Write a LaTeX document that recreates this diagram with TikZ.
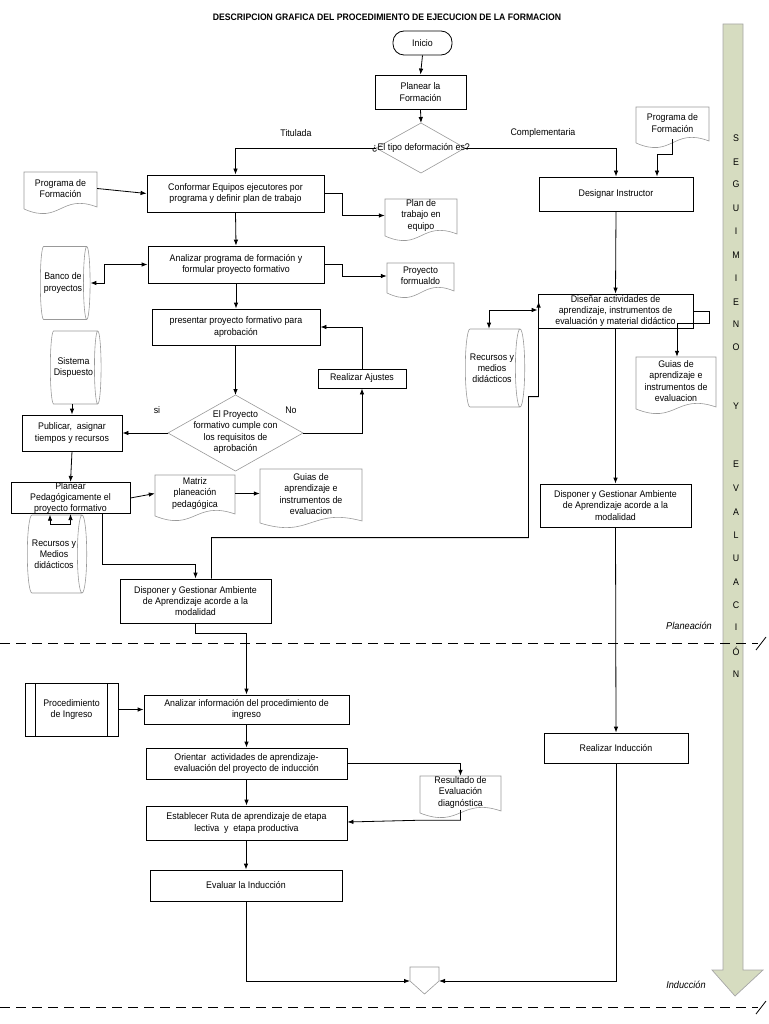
\documentclass[tikz,border=0pt]{standalone}
\usepackage{fontspec}
\setmainfont{Liberation Sans}[FakeStretch=0.92]
\usetikzlibrary{arrows.meta,shapes.geometric,calc}
\definecolor{arrfill}{RGB}{214,220,192}
\newcommand\bx[7][box]{\node[#1,minimum width={(#5-#3)*1pt},minimum height={(#6-#4)*1pt}] (#2) at ({(#3+#5)/2},{(#4+#6)/2}) {#7};}
\newcommand\dc[6]{\draw[docl] (#2,{#5-4}) -- (#2,#3) -- (#4,#3) -- (#4,{#5-6}) .. controls ({#2+0.5*(#4-#2)},{#5-20}) and ({#2+0.5*(#4-#2)},{#5+12}) .. (#2,{#5-4});
\node[inner sep=0pt,align=center,minimum width={(#4-#2)*1pt},minimum height={(#5-#3-8)*1pt}] (#1) at ({(#2+#4)/2},{(#3+#5-8)/2}) {#6};}
\begin{document}
\begin{tikzpicture}[x=1pt,y=-1pt,
  every node/.style={font=\fontsize{9.6}{11.2}\selectfont},
  box/.style={draw,line width=0.8pt,align=center,inner sep=1pt},
  docl/.style={draw=gray!80,line width=0.6pt},
  cyl/.style={cylinder,draw=gray!80,line width=0.6pt,shape aspect=0.3,align=center,inner sep=1pt},
  arr/.style={-{Latex[length=6pt,width=4.5pt]},line width=0.8pt},
  barr/.style={{Latex[length=6pt,width=4.5pt]}-{Latex[length=6pt,width=4.5pt]},line width=0.8pt},
  lbl/.style={font=\fontsize{9.6}{11}\selectfont}]
\useasboundingbox (0,0) rectangle (768,1024);
% big arrow
\draw[gray!70,fill=arrfill,line width=0.7pt] (723,24) -- (743,24) -- (743,970) -- (763,970) -- (735,996) -- (712,970) -- (723,970) -- cycle;
\foreach \ch/\yy in {S/138,E/162,G/184,U/208,I/231,M/255,I/278,E/302,N/324,O/347,Y/406,E/464,V/488,A/512,L/535,U/558,A/582,C/605,I/627,Ó/651,N/674}
  \node[lbl] (l\yy) at (736,\yy) {\ch};
% title
\node[font=\bfseries\fontsize{9.4}{11}\selectfont] (title) at (387,17) {DESCRIPCION GRAFICA DEL PROCEDIMIENTO DE EJECUCION DE LA FORMACION};
% dashed lines
\draw[dashed,dash pattern=on 10pt off 6pt,line width=0.9pt] (0,643) -- (758,643);
\draw[line width=0.8pt] (756,650) -- (766,637);
\draw[dashed,dash pattern=on 10pt off 6pt,line width=0.9pt] (0,1007) -- (758,1007);
\draw[line width=0.8pt] (756,1014) -- (766,1001);
\node[font=\itshape\fontsize{10}{12}\selectfont] (plan) at (689,626) {Planeación};
\node[font=\itshape\fontsize{10}{12}\selectfont] (ind) at (686,985) {Inducción};
% nodes
\bx[box,rounded corners=11pt]{inicio}{393}{31}{452}{55}{Inicio}
\bx{planear}{375}{75}{466}{109}{Planear la\\Formación}
\draw[line width=0.6pt,gray!80] (421,123) -- (465,148) -- (421,173) -- (376,148) -- cycle;
\node[inner sep=0pt] (d1) at (421,148) {¿El tipo de\\[-1pt]formación es?};
\node[align=center] at (421,148) {};
\coordinate (d1n) at (421,123); \coordinate (d1w) at (376,148); \coordinate (d1e) at (465,148);
\node[lbl] (tit) at (296,133) {Titulada};
\node[lbl] (comp) at (543,133) {Complementaria};
\bx{conf}{147}{175}{324}{212}{Conformar Equipos ejecutores por\\programa y definir plan de trabajo}
\dc{progL}{24}{172}{97}{213}{Programa de\\Formación}
\dc{plantr}{385}{199}{457}{240}{Plan de\\trabajo en\\equipo}
\bx{anal}{148}{246}{324}{283}{Analizar programa de formación y\\formular proyecto formativo}
\node[cyl,minimum width=73pt,minimum height=40pt] (banco) at (63,283) {Banco de\\proyectos};
\dc{proy}{387}{263}{454}{297}{Proyecto\\formualdo}
\bx{pres}{152}{309}{320}{345}{presentar proyecto formativo para\\aprobación}
\bx{ajus}{318}{369}{406}{388}{Realizar Ajustes}
\draw[line width=0.6pt,gray!80] (235.5,395) -- (303,433) -- (235.5,471) -- (168,433) -- cycle;
\node[align=center,inner sep=0pt] (d2) at (235.5,432) {El Proyecto\\formativo cumple con\\los requisitos de\\aprobación};
\coordinate (d2n) at (235.5,395); \coordinate (d2w) at (168,433); \coordinate (d2e) at (303,433);
\node[lbl] (si) at (157,410) {si};
\node[lbl] (no) at (291,410) {No};
\node[cyl,minimum width=73pt,minimum height=39pt] (sist) at (73.5,367.5) {Sistema\\Dispuesto};
\bx{publ}{22}{415}{122}{451}{Publicar,\enspace asignar\\tiempos y recursos}
\bx[box,inner sep=0pt]{plped}{11}{483}{130}{513}{Planear\\Pedagógicamente el\\proyecto formativo}
\dc{matriz}{155}{475}{235}{520}{Matriz\\planeación\\pedagógica}
\dc{guias1}{260}{469}{362}{527}{Guias de\\aprendizaje e\\instrumentos de\\evaluacion}
\node[cyl,minimum width=78pt,minimum height=42pt] (rec1) at (54,554) {Recursos y\\Medios\\didácticos};
\bx{displ}{120}{579}{271}{623}{Disponer y Gestionar Ambiente\\de Aprendizaje acorde a la\\modalidad}
\dc{progR}{636}{107}{709}{147}{Programa de\\Formación}
\bx{desig}{539}{177}{693}{211}{Designar Instructor}
\bx[box,inner sep=0pt]{disen}{538}{294}{693}{328}{Diseñar actividades de\\aprendizaje, instrumentos de\\evaluación y material didáctico}
\node[cyl,minimum width=78pt,minimum height=38pt] (rec2) at (492,368) {Recursos y\\medios\\didácticos};
\dc{guias2}{636}{357}{716}{413}{Guias de\\aprendizaje e\\instrumentos de\\evaluacion}
\bx{dispr}{540}{484}{691}{527}{Disponer y Gestionar Ambiente\\de Aprendizaje acorde a la\\modalidad}
\bx{realind}{544}{733}{688}{763}{Realizar Inducción}
% Induccion
\bx{proc}{25}{683}{118}{736}{Procedimiento\\de Ingreso}
\draw[line width=0.8pt] (35,683) -- (35,736) (107,683) -- (107,736);
\bx{anal2}{144}{695}{349}{724}{Analizar información del procedimiento de\\ingreso}
\bx{orient}{146}{748}{347}{779}{Orientar\enspace actividades de aprendizaje-\\evaluación del proyecto de inducción}
\dc{result}{420}{776}{501}{817}{Resultado de\\Evaluación\\diagnóstica}
\bx{estab}{146}{806}{347}{840}{Establecer Ruta de aprendizaje de etapa\\lectiva\enspace y\enspace etapa productiva}
\bx{eval}{150}{870}{342}{901}{Evaluar la Inducción}
\draw[line width=0.6pt,gray!80] (410,967) -- (439,967) -- (439,981) -- (424.5,994) -- (410,981) -- cycle;
\coordinate (offw) at (410,981); \coordinate (offe) at (439,981);
% connectors
\draw[arr] (inicio.south) -- (planear.north);
\draw[arr] (planear.south) -- (d1n);
\draw[arr] (d1w) -| (conf.north);
\draw[arr] (d1e) -| (desig.north);
\draw[arr] (progL.east) -- (conf.west);
\draw[arr] (conf.east) -- ++(18,0) |- (plantr.west);
\draw[arr] (conf.south) -- (anal.north);
\draw[barr] (banco.east) -- ++(14,0) |- (anal.west);
\draw[arr] (anal.east) -- ++(18,0) |- (proy.west);
\draw[arr] (anal.south) -- (anal.south |- pres.north);
\draw[arr] (pres.south -| d2n) -- (d2n);
\draw[arr] (d2w) -- (d2w -| publ.east);
\draw[arr] (d2e) -| (ajus.south);
\draw[arr] (ajus.north) |- (pres.east);
\draw[arr] (sist.south -| publ.north) -- (publ.north);
\draw[arr] (publ.south) -- (plped.north);
\draw[arr] (plped.east) -- (matriz.west);
\draw[arr] (matriz.east) -- (matriz.east -| guias1.west);
\draw[barr] (plped.south) -- ++(0,10) -| ([xshift=-4pt]rec1.north);
\draw[arr] ([xshift=31.5pt]plped.south) -- ++(0,50) -| (displ.north);
\draw[arr] ([xshift=16pt]displ.north) -- ++(0,-41) -- ++(317,0) -- ++(0,-141) -- ++(10,0) -- ([xshift=1pt,yshift=-8pt]disen.north west);
\draw[arr] (progR.south) -- ++(0,15) -| ([xshift=41pt]desig.north);
\draw[arr] (desig.south) -- (disen.north);
\draw[barr] ([xshift=-3pt]rec2.north) |- ([yshift=1pt]disen.west);
\draw[arr] (disen.east) -- ++(16,0) -- ++(0,12) -| ([xshift=1pt]guias2.north);
\draw[arr] (disen.south) -- (dispr.north);
\draw[arr] (dispr.south) -- (realind.north);
\draw[arr] (displ.south) -- ++(0,10) -| (anal2.north);
\draw[arr] (proc.east) -- (anal2.west);
\draw[arr] (anal2.south -| orient.north) -- (orient.north);
\draw[arr] (orient.east) -| (result.north);
\draw[arr] ([yshift=-1pt]result.south) -- ++(0,10) -| ++(-40,0) -- (estab.east |- 0,822);
\draw[arr] (orient.south) -- (estab.north);
\draw[arr] (estab.south -| eval.north) -- (eval.north);
\draw[arr] (eval.south) |- (offw);
\draw[arr] (realind.south) |- (offe);
\end{tikzpicture}
\end{document}
